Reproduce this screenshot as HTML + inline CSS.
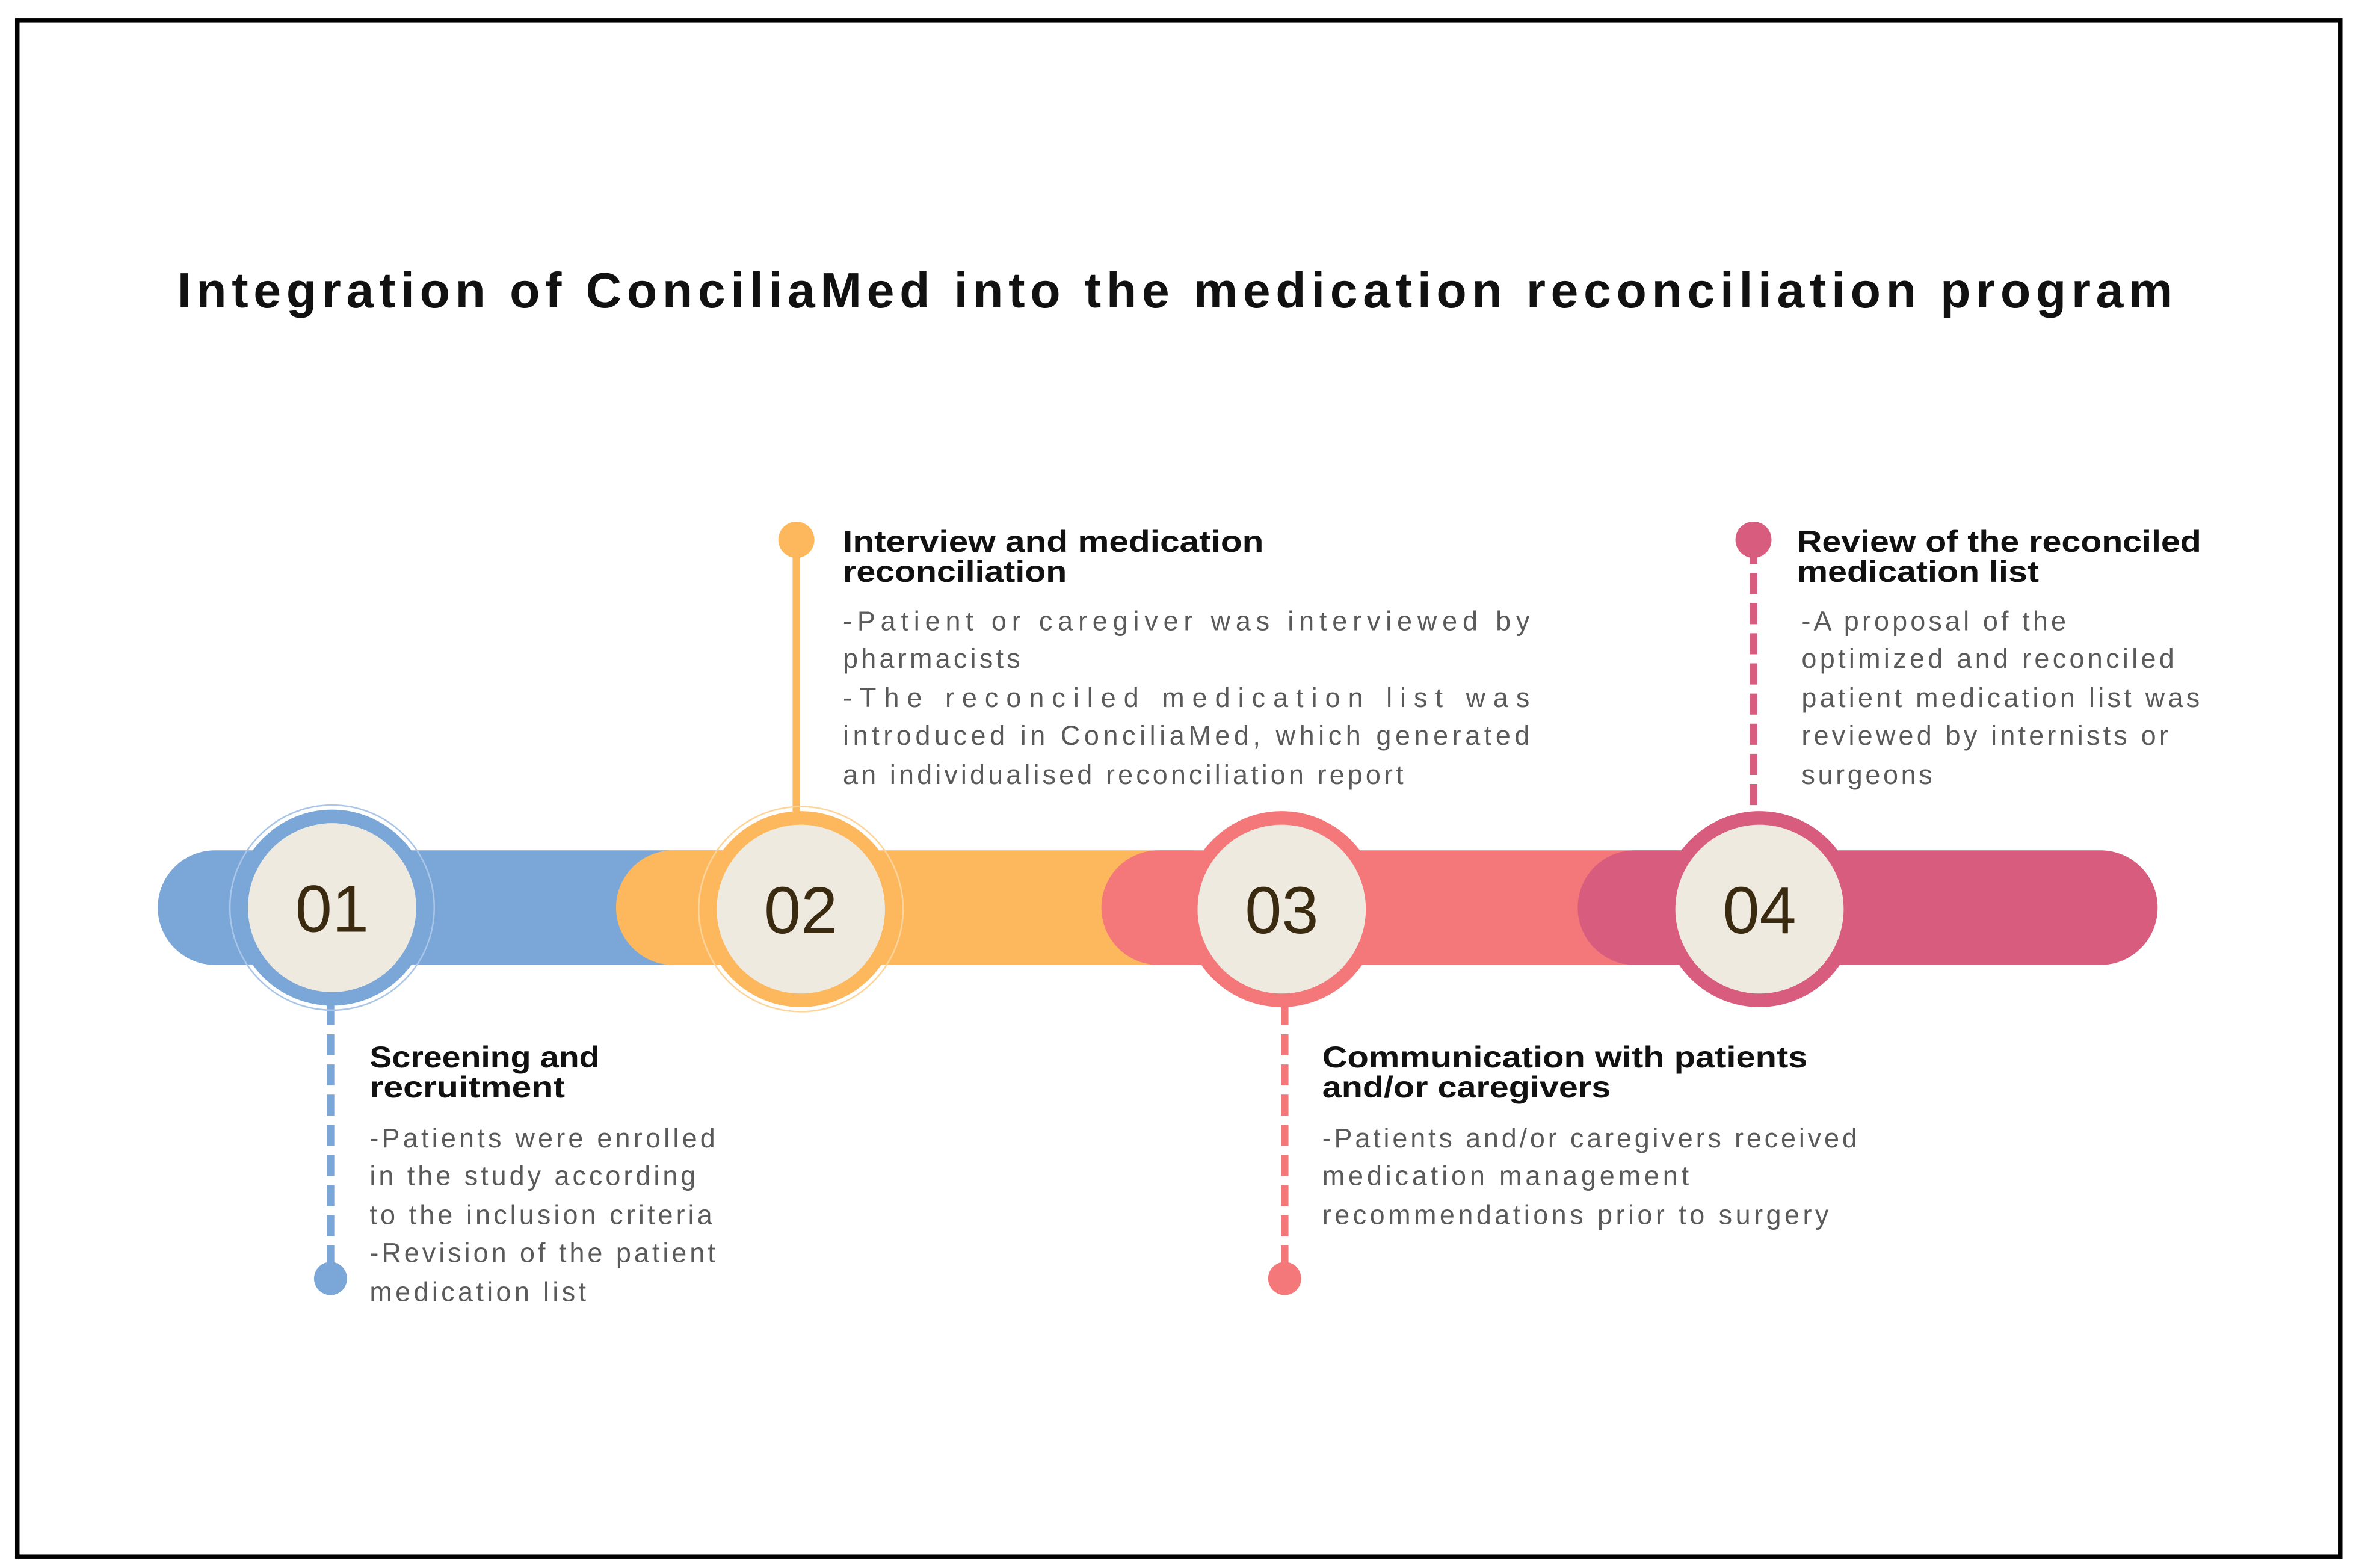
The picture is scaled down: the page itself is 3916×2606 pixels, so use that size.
<!DOCTYPE html>
<html><head><meta charset="utf-8"><style>
html,body{margin:0;padding:0;background:#fff;}
svg{display:block;}
.h{font-family:"Liberation Sans",sans-serif;font-weight:bold;font-size:20px;fill:#111;}
.b{font-family:"Liberation Sans",sans-serif;font-size:18px;fill:#5a5a5a;}
.n{font-family:"Liberation Sans",sans-serif;font-size:44px;fill:#3a2a10;}
</style></head><body>
<svg width="3916" height="2606" viewBox="0 0 1568 1040" preserveAspectRatio="none" xmlns="http://www.w3.org/2000/svg">
<rect x="0" y="0" width="1568" height="1040" fill="#fff"/>
<rect x="11.5" y="13.5" width="1546" height="1019" fill="none" stroke="#000" stroke-width="3"/>
<text x="118" y="204" textLength="1328" lengthAdjust="spacing" style="font-family:'Liberation Sans',sans-serif;font-weight:bold;font-size:33px;fill:#111">Integration of ConciliaMed into the medication reconciliation program</text>

<!-- bars -->
<rect x="105" y="564" width="420" height="76" rx="38" fill="#7BA7D8"/>
<rect x="410" y="564" width="420" height="76" rx="38" fill="#FDB85E"/>
<rect x="733" y="564" width="420" height="76" rx="38" fill="#F4787A"/>
<rect x="1050" y="564" width="386" height="76" rx="38" fill="#D85C7E"/>

<!-- stems -->
<line x1="220" y1="666" x2="220" y2="846" stroke="#7BA7D8" stroke-width="5" stroke-dasharray="14 6"/>
<circle cx="220" cy="848" r="11" fill="#7BA7D8"/>
<line x1="530" y1="360" x2="530" y2="540" stroke="#FDB85E" stroke-width="5"/>
<circle cx="530" cy="358" r="12" fill="#FDB85E"/>
<line x1="855" y1="666" x2="855" y2="846" stroke="#F4787A" stroke-width="5" stroke-dasharray="14 6"/>
<circle cx="855" cy="848" r="11" fill="#F4787A"/>
<line x1="1167" y1="360" x2="1167" y2="540" stroke="#D85C7E" stroke-width="5" stroke-dasharray="14 6"/>
<circle cx="1167" cy="358" r="12" fill="#D85C7E"/>

<!-- circles -->
<g>
<circle cx="221" cy="602" r="65" fill="#7BA7D8"/><circle cx="221" cy="602" r="68" fill="none" stroke="#a9c6e8" stroke-width="1"/><circle cx="221" cy="602" r="56" fill="#EFEADF"/>
<text class="n" x="221" y="618" text-anchor="middle">01</text>
<circle cx="533" cy="603" r="65" fill="#FDB85E"/><circle cx="533" cy="603" r="68" fill="none" stroke="#fdd49a" stroke-width="1"/><circle cx="533" cy="603" r="56" fill="#EFEADF"/>
<text class="n" x="533" y="619" text-anchor="middle">02</text>
<circle cx="853" cy="603" r="65" fill="#F4787A"/><circle cx="853" cy="603" r="56" fill="#EFEADF"/>
<text class="n" x="853" y="619" text-anchor="middle">03</text>
<circle cx="1171" cy="603" r="65" fill="#D85C7E"/><circle cx="1171" cy="603" r="56" fill="#EFEADF"/>
<text class="n" x="1171" y="619" text-anchor="middle">04</text>
</g>

<!-- block 01 -->
<text class="h" x="246" y="708" textLength="153" lengthAdjust="spacingAndGlyphs">Screening and</text>
<text class="h" x="246" y="728" textLength="130" lengthAdjust="spacingAndGlyphs">recruitment</text>
<text class="b" x="246" y="761" textLength="230" lengthAdjust="spacing">-Patients were enrolled</text>
<text class="b" x="246" y="786" textLength="217" lengthAdjust="spacing">in the study according</text>
<text class="b" x="246" y="812" textLength="228" lengthAdjust="spacing">to the inclusion criteria</text>
<text class="b" x="246" y="837" textLength="230" lengthAdjust="spacing">-Revision of the patient</text>
<text class="b" x="246" y="863" textLength="144" lengthAdjust="spacing">medication list</text>

<!-- block 02 -->
<text class="h" x="561" y="366" textLength="280" lengthAdjust="spacingAndGlyphs">Interview and medication</text>
<text class="h" x="561" y="386" textLength="149" lengthAdjust="spacingAndGlyphs">reconciliation</text>
<text class="b" x="561" y="418" textLength="457" lengthAdjust="spacing">-Patient or caregiver was interviewed by</text>
<text class="b" x="561" y="443" textLength="118" lengthAdjust="spacing">pharmacists</text>
<text class="b" x="561" y="469" textLength="457" lengthAdjust="spacing">-The reconciled medication list was</text>
<text class="b" x="561" y="494" textLength="457" lengthAdjust="spacing">introduced in ConciliaMed, which generated</text>
<text class="b" x="561" y="520" textLength="373" lengthAdjust="spacing">an individualised reconciliation report</text>

<!-- block 03 -->
<text class="h" x="880" y="708" textLength="323" lengthAdjust="spacingAndGlyphs">Communication with patients</text>
<text class="h" x="880" y="728" textLength="192" lengthAdjust="spacingAndGlyphs">and/or caregivers</text>
<text class="b" x="880" y="761" textLength="356" lengthAdjust="spacing">-Patients and/or caregivers received</text>
<text class="b" x="880" y="786" textLength="244" lengthAdjust="spacing">medication management</text>
<text class="b" x="880" y="812" textLength="337" lengthAdjust="spacing">recommendations prior to surgery</text>

<!-- block 04 -->
<text class="h" x="1196" y="366" textLength="269" lengthAdjust="spacingAndGlyphs">Review of the reconciled</text>
<text class="h" x="1196" y="386" textLength="161" lengthAdjust="spacingAndGlyphs">medication list</text>
<text class="b" x="1199" y="418" textLength="176" lengthAdjust="spacing">-A proposal of the</text>
<text class="b" x="1199" y="443" textLength="248" lengthAdjust="spacing">optimized and reconciled</text>
<text class="b" x="1199" y="469" textLength="265" lengthAdjust="spacing">patient medication list was</text>
<text class="b" x="1199" y="494" textLength="244" lengthAdjust="spacing">reviewed by internists or</text>
<text class="b" x="1199" y="520" textLength="87" lengthAdjust="spacing">surgeons</text>
</svg>
</body></html>
